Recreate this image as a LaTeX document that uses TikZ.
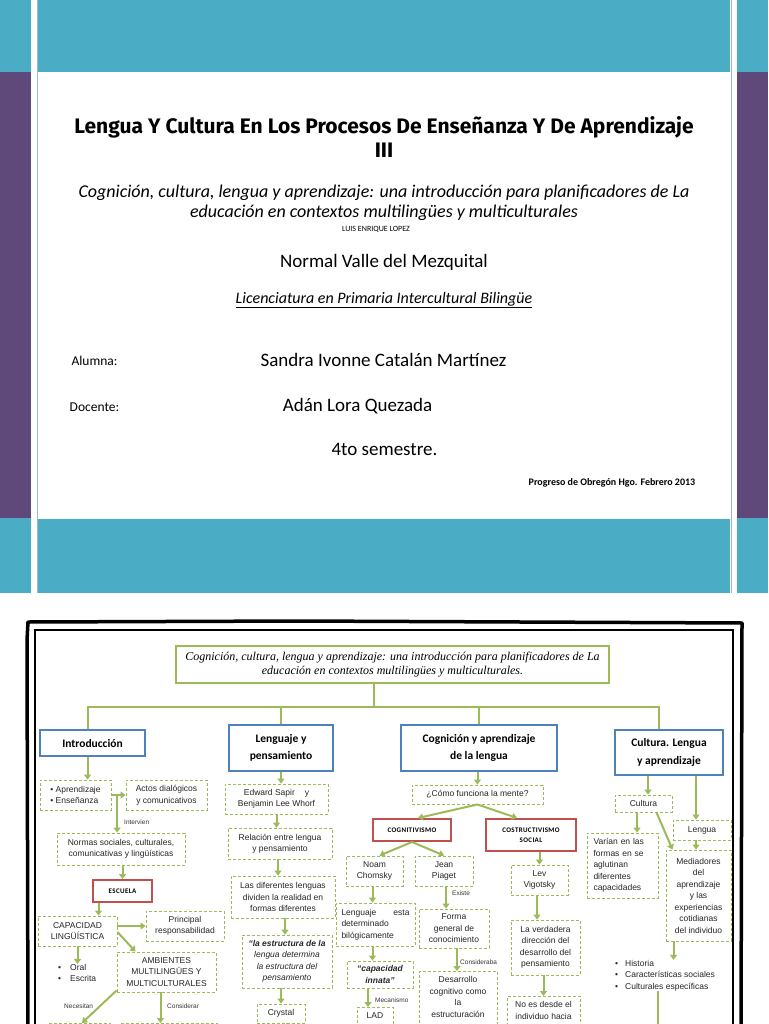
\documentclass[tikz,border=0pt]{standalone}
\usepackage{fontspec}
\setmainfont{Liberation Sans}
\newfontfamily\calibri{Carlito}
\newfontfamily\berlin{Fira Sans}
\newfontfamily\cambria{Liberation Serif}
\usepackage{tikz}
\usetikzlibrary{calc}
\usetikzlibrary {arrows.meta}
\usepackage{xcolor}
\definecolor{cteal}{HTML}{4BACC6}
\definecolor{cpurp}{HTML}{5F497A}
\definecolor{mgreen}{HTML}{9BBB59}
\definecolor{hblue}{HTML}{4F81BD}
\definecolor{mred}{HTML}{C0504D}
\definecolor{pline}{HTML}{9DB9C9}

\newcommand{\mapfont}{\fontsize{8.5}{11.5}\selectfont}
\newcommand{\tinyfont}{\fontsize{6.5}{7}\selectfont}
\newcommand{\hdfont}{\calibri\bfseries\fontsize{11.5}{17.5}\selectfont}
\newcommand{\rdfont}{\calibri\bfseries\addfontfeatures{LetterSpace=5}\fontsize{7}{10}\selectfont}

\begin{document}
\begin{tikzpicture}[x=1pt, y=-1pt,
					hd/.style={rectangle, draw=hblue, line width=2.5pt, align=center, font=\hdfont, inner sep=2pt},
					bx/.style={rectangle, draw=mgreen, line width=0.9pt, dash pattern=on 3pt off 2pt, align=center, font=\mapfont, text=black!85, inner sep=2pt},
					rd/.style={rectangle, draw=mred, line width=2pt, align=center, font=\rdfont, inner sep=1pt},
					tt/.style={rectangle, draw=mgreen, line width=2pt, align=center, font=\cambria\itshape\fontsize{12}{14}\selectfont},
					ln/.style={draw=mgreen, line width=2pt},
					ar/.style={ln, -{Triangle[width=7pt, length=5pt]}},
					lb/.style={anchor=west, font=\tinyfont, inner sep=0pt, text=black!80},
					ls/.style={align=left, font=\mapfont, text=black!85, inner sep=0pt, anchor=west}
					]
					\useasboundingbox (0,0) rectangle (768,1024);
					\clip (0,0) rectangle (768,1024);
					\fill[white] (0,0) rectangle (768,1024);
					
					%Cover
					\foreach \x in {0,737} {
						\fill[cteal] (\x,0) rectangle ++(31,72);
						\fill[cpurp] (\x,72) rectangle ++(31,446);
						\fill[cteal] (\x,518) rectangle ++(31,75);
					}
					\fill[cteal] (38,0) rectangle (730,72);
					\fill[cteal] (38,519) rectangle (730,593);
					\draw[pline, line width=1pt] (37,0) -- (37,593) (731,0) -- (731,593);
					
					\node[font=\berlin\bfseries\fontsize{21}{24}\selectfont, align=center] (ttl) at (384,137) {Lengua Y Cultura En Los Procesos De Enseñanza Y De Aprendizaje\\III};
					\node[font=\calibri\itshape\fontsize{18}{20}\selectfont, align=center] (sub) at (384,203) {Cognición, cultura, lengua y aprendizaje: una introducción para planificadores de La\\educación en contextos multilingües y multiculturales};
					\node[font=\calibri\fontsize{8}{9}\selectfont] (aut) at (376,229) {LUIS ENRIQUE LOPEZ};
					\node[font=\calibri\fontsize{19}{22}\selectfont] (nor) at (384,262) {Normal Valle del Mezquital};
					\node[font=\calibri\itshape\fontsize{16}{19}\selectfont] (lic) at (384,300) {\underline{Licenciatura en Primaria Intercultural Bilingüe}};
					\node[font=\calibri\fontsize{13.5}{15}\selectfont] (alu) at (94.5,361) {Alumna:};
					\node[font=\calibri\fontsize{19}{22}\selectfont] (san) at (383.5,360) {Sandra Ivonne Catalán Martínez};
					\node[font=\calibri\fontsize{13.5}{15}\selectfont] (doc) at (94.5,407) {Docente:};
					\node[font=\calibri\fontsize{19}{22}\selectfont] (ada) at (357.5,406) {Adán Lora Quezada};
					\node[font=\calibri\fontsize{19}{22}\selectfont] (sem) at (384.5,449) {4to semestre.};
					\node[font=\calibri\bfseries\fontsize{10}{12}\selectfont] (pro) at (612,483) {Progreso de Obregón Hgo. Febrero 2013};
					
					%Frame
					\draw[line width=3.5pt, line join=round] (28,1040) -- (27,640) -- (28,622) -- (300,621) -- (742,623) -- (741,1040);
					\draw[line width=1.2pt] (35,1040) -- (35,630) -- (733,630) -- (733,1040);
					
					%Nodes
					\node[tt, minimum width=433, minimum height=37] (tit) at (392.5,664.5) {Cognición, cultura, lengua y aprendizaje: una introducción para planificadores de La\\educación en contextos multilingües y multiculturales.};
					
					\node[hd, minimum width=105, minimum height=26] (intro) at (92.5,743) {Introducción};
					\node[hd, minimum width=104, minimum height=46] (leng) at (281,748) {Lenguaje y\\pensamiento};
					\node[hd, minimum width=156, minimum height=46] (cogn) at (479,748) {Cognición y aprendizaje\\de la lengua};
					\node[hd, minimum width=108, minimum height=45] (cult) at (669,752.5) {Cultura. Lengua\\y aprendizaje};
					
					\node[bx, minimum width=71, minimum height=30, align=left] (apr) at (75.5,795) {\textbullet\ Aprendizaje\\\textbullet\ Enseñanza};
					\node[bx, minimum width=81, minimum height=30] (act) at (166.5,795) {Actos dialógicos\\y comunicativos};
					\node[bx, minimum width=128, minimum height=32] (norm) at (121,849) {Normas sociales, culturales,\\comunicativas y lingüísticas};
					\node[rd, minimum width=59, minimum height=22] (escu) at (122.5,891) {ESCUELA};
					\node[bx, minimum width=79, minimum height=30] (cap) at (77.5,931) {CAPACIDAD\\LINGÜÍSTICA};
					\node[bx, minimum width=78, minimum height=30] (resp) at (185,926) {Principal\\responsabilidad};
					\node[bx, minimum width=99, minimum height=40] (amb) at (166.5,972) {AMBIENTES\\MULTILINGÜES Y\\MULTICULTURALES};
					\node[ls] (oral) at (58,973) {\textbullet\hspace{9pt}Oral\\\textbullet\hspace{9pt}Escrita};
					\node[bx, minimum width=62, minimum height=40, anchor=north] (nec) at (79,1023) {};
					\node[bx, minimum width=97, minimum height=40, anchor=north] (cons) at (168.5,1023) {};
					
					\node[bx, minimum width=103, minimum height=30] (sap) at (276.5,799) {Edward Sapir\hspace{10pt}y\\Benjamin Lee Whorf};
					\node[bx, minimum width=104, minimum height=31] (rel) at (280,843.5) {Relación entre lengua\\y pensamiento};
					\node[bx, minimum width=104, minimum height=42] (dif) at (283,897) {Las diferentes lenguas\\dividen la realidad en\\formas diferentes};
					\node[bx, minimum width=90, minimum height=53, font=\mapfont\itshape] (est) at (287,961.5) {\textbf{“la estructura de la}\\lengua determina\\la estructura del\\pensamiento};
					\node[bx, minimum width=48, minimum height=19] (cry) at (281,1013.5) {Crystal};
					\coordinate (cend) at (287,1040);
					
					\node[bx, minimum width=131, minimum height=19] (como) at (477.5,794.5) {¿Cómo funciona la mente?};
					\node[rd, minimum width=78, minimum height=22] (cgt) at (412,830) {COGNITIVISMO};
					\node[rd, minimum width=90, minimum height=32] (cst) at (531,835) {COSTRUCTIVISMO\\SOCIAL};
					\node[bx, minimum width=57, minimum height=30] (noam) at (374.5,871) {Noam\\Chomsky};
					\node[bx, minimum width=58, minimum height=30] (jean) at (444,871) {Jean\\Piaget};
					\node[bx, minimum width=57, minimum height=30] (lev) at (539.5,880) {Lev\\Vigotsky};
					\node[bx, minimum width=79, minimum height=43, align=left, text width=68] (bio) at (375.5,924.5) {Lenguaje\hfill esta\\determinado\\bilógicamente};
					\node[bx, minimum width=70, minimum height=39] (forma) at (454,928.5) {Forma\\general de\\conocimiento};
					\node[bx, minimum width=69, minimum height=55] (verd) at (545.5,947.5) {La verdadera\\dirección del\\desarrollo del\\pensamiento};
					\node[bx, minimum width=66, minimum height=27, font=\mapfont\bfseries\itshape] (inna) at (380,974.5) {“capacidad\\innata”};
					\node[bx, minimum width=36, anchor=north, inner ysep=5, text depth=30] (lad) at (375,1007) {LAD};
					\node[bx, minimum width=78, anchor=north, inner ysep=5, text depth=60] (des) at (458,971) {Desarrollo\\cognitivo como\\la\\estructuración};
					\node[bx, minimum width=73, anchor=north, inner ysep=5, text depth=40] (noes) at (543.5,996) {No es desde el\\individuo hacia};
					
					\node[bx, minimum width=57, minimum height=17] (cul) at (643.5,803.5) {Cultura};
					\node[bx, minimum width=58, minimum height=20] (lg) at (702,830) {Lengua};
					\node[bx, minimum width=71, minimum height=65, align=left, text width=58] (var) at (622.5,865.5) {Varían en las\\formas en se\\aglutinan\\diferentes\\capacidades};
					\node[bx, minimum width=65, minimum height=91] (med) at (698.5,895.5) {Mediadores\\del\\aprendizaje\\y las\\experiencias\\cotidianas\\del individuo};
					\node[ls] (hist) at (615,975.5) {\textbullet\hspace{7pt}Historia\\\textbullet\hspace{7pt}Características sociales\\\textbullet\hspace{7pt}Culturales específicas};
					\coordinate (hend) at (658,1040);
					
					%Labels
					\node[lb] (int) at (124,822) {Intervien};
					\node[lb] (necl) at (64,1006) {Necesitan};
					\node[lb] (conl) at (167,1006) {Considerar};
					\node[lb] (exi) at (452,893) {Existe};
					\node[lb] (mec) at (375,1000) {Mecanismo};
					\node[lb] (cns) at (460,962) {Consideraba};
					
					%Lines
					\coordinate (bus) at (374,707);
					\draw[ln] (tit.south -| bus) -- (bus);
					\draw[ln] ([xshift=-5]intro.north) |- (bus) -| ([xshift=-10]cult.north);
					\draw[ln] (leng.north) -- (leng.north |- bus);
					\draw[ln] (cogn.north) -- (cogn.north |- bus);
					
					\draw[ar] ([xshift=-5]intro.south) -- ([xshift=-5]intro.south |- apr.north);
					\draw[ar] (apr.east) -- (act.west);
					\coordinate (j1) at ($(apr.east)!0.4!(act.west)$);
					\draw[ar] (j1) -- (j1 |- norm.north);
					\draw[ar] (escu.north |- norm.south) -- (escu.north);
					\draw[ar] ([xshift=-24]escu.south) -- ([xshift=-24]escu.south |- cap.north);
					\draw[ar] (cap.east |- resp.west) -- (resp.west);
					\draw[ar] ([yshift=-1]cap.east) -- ([xshift=-31]amb.north);
					\draw[ar] (cap.south) -- (cap.south |- oral.north);
					\draw[ar] ([yshift=2]amb.south west) -- ([xshift=3]nec.north);
					\draw[ar] ([xshift=-6]amb.south) -- ([xshift=-6]amb.south |- cons.north);
					
					\draw[ar] (leng.south) -- (leng.south |- sap.north);
					\draw[ar] (sap.south) -- (sap.south |- rel.north);
					\draw[ar] ([xshift=-2]rel.south) -- ([xshift=-2]rel.south |- dif.north);
					\draw[ar] ([xshift=2]dif.south) -- ([xshift=2]dif.south |- est.north);
					\draw[ar] (cry.north |- est.south) -- (cry.north);
					\draw[ln] ([xshift=6]cry.south) -- (cend);
					
					\draw[ar] (cogn.south -| como.north) -- (como.north);
					\draw[ar] (como.south) -- ([xshift=6]cgt.north);
					\draw[ar] (como.south) -- ([xshift=-14]cst.north);
					\draw[ar] (cgt.south) -- ([xshift=5]noam.north);
					\draw[ar] (cgt.south) -- (jean.north);
					\draw[ar] (cst.south -| lev.north) -- (lev.north);
					\draw[ar] ([xshift=-2]noam.south) -- ([xshift=-2]noam.south |- bio.north);
					\draw[ar] ([xshift=2]jean.south) -- ([xshift=2]jean.south |- forma.north);
					\draw[ar] ([xshift=-3]bio.south) -- ([xshift=-3]bio.south |- inna.north);
					\draw[ar] ([xshift=-12]inna.south) -- ([xshift=-12]inna.south |- lad.north);
					\draw[ar] ([xshift=3]forma.south) -- ([xshift=3]forma.south |- des.north);
					\draw[ar] ([xshift=-2.5]lev.south) -- ([xshift=-2.5]lev.south |- verd.north);
					\draw[ar] (noes.north |- verd.south) -- (noes.north);
					
					\draw[ar] ([xshift=-21]cult.south) -- ([xshift=-21]cult.south |- cul.north);
					\draw[ar] ([xshift=27]cult.south) -- ([xshift=27]cult.south |- lg.north);
					\draw[ar] ([xshift=-6.5]cul.south) -- ([xshift=-6.5]cul.south |- var.north);
					\draw[ar] ([xshift=13]cul.south) -- ([xshift=-26]med.north);
					\draw[ar] ([xshift=-6]lg.south) -- ([xshift=-6]lg.south |- med.north);
					\draw[ar] ([xshift=-25]med.south) -- ([xshift=-25]med.south |- hist.north);
					\draw[ar] (hist.south -| hend) -- (hend);
				\end{tikzpicture}
\end{document}
